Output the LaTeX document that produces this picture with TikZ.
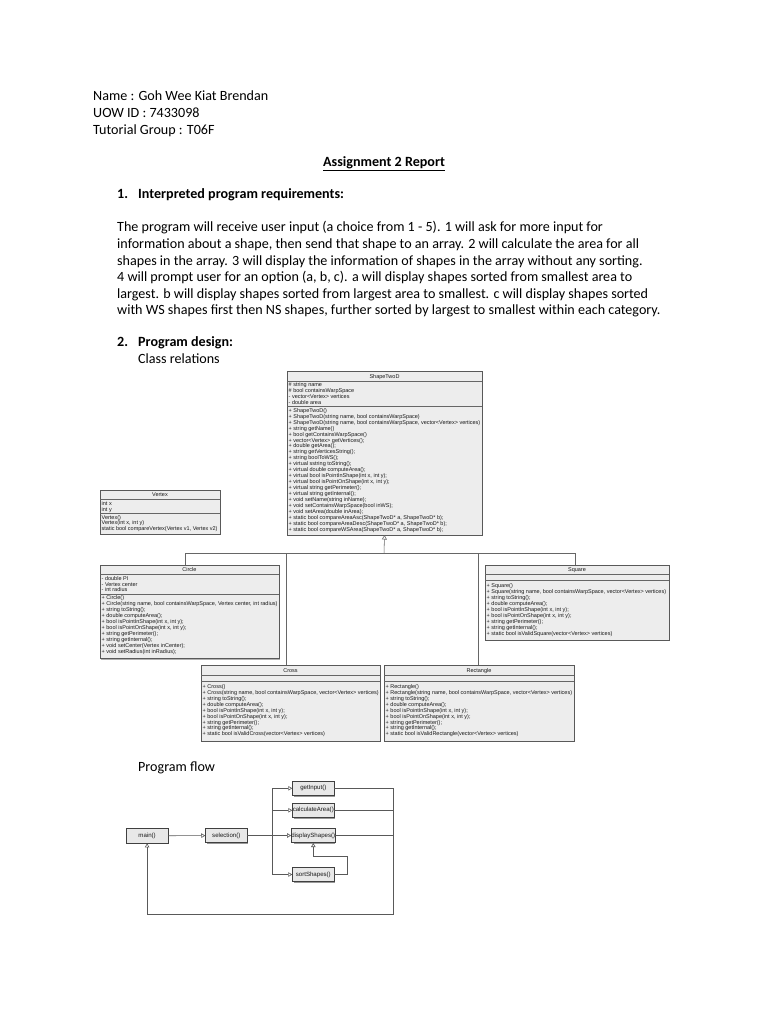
\documentclass[tikz,border=0pt]{standalone}
\usepackage{fontspec}
\setmainfont{Carlito}
\newfontfamily\umlfont{Liberation Sans}
\usetikzlibrary{arrows.meta,calc}
\newcommand\umlbox[5]{%
  \fill[umlshadow] ({#2+1.3},{#3+1.3}) rectangle ({#4+1.3},{#5+1.3});
  \node[classbox, minimum width={#4-#2}, minimum height={#5-#3}] (#1) at (#2,#3) {};
}
\newcommand\umllines[5]{%
  \foreach \umlt [count=\umli] in {#5} {%
    \node[uml] (#1\umli) at (#2,{#3+(\umli-1)*#4}) {\umlt};
  }%
}
\begin{document}
\begin{tikzpicture}[x=1pt,y=-1pt,
  body/.style={anchor=base west, inner sep=0pt, font=\fontsize{14.1}{16}\selectfont},
  bodyc/.style={anchor=base, inner sep=0pt, font=\fontsize{14.1}{16}\selectfont},
  uml/.style={anchor=base west, inner sep=0pt, text=black!90, font=\umlfont\fontsize{5.5}{6}\selectfont},
  umltitle/.style={anchor=base, inner sep=0pt, text=black!90, font=\umlfont\fontsize{5.5}{6}\selectfont},
  classbox/.style={draw=black!65, fill=black!7, line width=0.55pt, anchor=north west, inner sep=0pt, outer sep=0pt},
  umlshadow/.style={fill=black!30},
  sepline/.style={draw=black!60, line width=0.45pt},
  umlline/.style={draw=black!60, line width=0.55pt},
  inh/.style={umlline, -{Triangle[open,length=4.5pt,width=5pt]}},
  flow/.style={draw=black!75, fill=black!9, line width=0.6pt, minimum width=41.5pt, minimum height=14.5pt, inner sep=0pt, text=black!90, font=\umlfont\fontsize{6.1}{6.5}\selectfont},
  flowshadow/.style={fill=black!40},
  fline/.style={draw=black!65, line width=0.6pt},
  farrow/.style={fline, -{Triangle[open,length=4pt,width=4.5pt]}}
]
\useasboundingbox (0,0) rectangle (768,1024);
\fill[white] (0,0) rectangle (768,1024);

% ---------- header text ----------
\node[body] (name) at (93,100.3) {Name : Goh Wee Kiat Brendan};
\node[body] (uow) at (93,117.5) {UOW ID : 7433098};
\node[body] (tut) at (93,134.7) {Tutorial Group : T06F};
\node[bodyc] (title) at (384,166.3) {\underline{\textbf{Assignment 2 Report}}};
\node[body] (n1) at (117,198.3) {\textbf{1.}};
\node[body] (s1) at (138,198.3) {\textbf{Interpreted program requirements:}};
\node[body] (p1) at (117,232) {The program will receive user input (a choice from 1 - 5). 1 will ask for more input for};
\node[body] (p2) at (117,248.5) {information about a shape, then send that shape to an array. 2 will calculate the area for all};
\node[body] (p3) at (117,265) {shapes in the array. 3 will display the information of shapes in the array without any sorting.};
\node[body] (p4) at (117,281.5) {4 will prompt user for an option (a, b, c). a will display shapes sorted from smallest area to};
\node[body] (p5) at (117,298) {largest. b will display shapes sorted from largest area to smallest. c will display shapes sorted};
\node[body] (p6) at (117,314.5) {with WS shapes first then NS shapes, further sorted by largest to smallest within each category.};
\node[body] (n2) at (117,346.8) {\textbf{2.}};
\node[body] (s2) at (138,346.8) {\textbf{Program design:}};
\node[body] (cr) at (138,363) {Class relations};
\node[body] (pf) at (138,771.3) {Program flow};

% ---------- class diagram ----------
% ShapeTwoD
\umlbox{s2d}{287}{371}{482}{535}
\node[umltitle] (s2dt) at (s2d.north |- 0,378) {ShapeTwoD};
\draw[sepline] (s2d.west |- 0,381) -- (s2d.east |- 0,381);
\umllines{s2da}{288.5}{386.8}{5.9}{{\# string name},{\# bool  containsWarpSpace},{- vector<Vertex> vertices},{- double area}}
\draw[sepline] (s2d.west |- 0,406.5) -- (s2d.east |- 0,406.5);
\umllines{s2dm}{288.5}{412.4}{5.93}{{+ ShapeTwoD()},{+ ShapeTwoD(string name, bool containsWarpSpace)},{+ ShapeTwoD(string name, bool containsWarpSpace, vector<Vertex> vertices)},{+ string getName()},{+ bool getContainsWarpSpace()},{+ vector<Vertex> getVertices();},{+ double getArea();},{+ string getVerticesString();},{+ string boolToWS();},{+ virtual sstring toString();},{+ virtual double computeArea();},{+ virtual bool isPointInShape(int x, int y);},{+ virtual bool isPointOnShape(int x, int y);},{+ virtual string getPerimeter();},{+ virtual string getInternal();},{+ void setName(string inName);},{+ void setContainsWarpSpace(bool inWS);},{+ void setArea(double inArea);},{+ static bool compareAreaAsc(ShapeTwoD* a, ShapeTwoD* b);},{+ static bool compareAreaDesc(ShapeTwoD* a, ShapeTwoD* b);},{+ static bool compareWSArea(ShapeTwoD* a, ShapeTwoD* b);}}

% Vertex
\umlbox{vtx}{100}{490.5}{220}{534}
\node[umltitle] (vtxt) at (vtx.north |- 0,496.8) {Vertex};
\draw[sepline] (vtx.west |- 0,498.8) -- (vtx.east |- 0,498.8);
\umllines{vtxa}{101.5}{505.3}{5.7}{{int x},{int y}}
\draw[sepline] (vtx.west |- 0,513) -- (vtx.east |- 0,513);
\umllines{vtxm}{101.5}{519.1}{5.7}{{Vertex()},{Vertex(int x, int y)},{static bool compareVertex(Vertex v1, Vertex v2)}}

% Circle
\umlbox{cir}{100}{565.2}{279}{658.6}
\node[umltitle] (cirt) at (cir.north |- 0,571.8) {Circle};
\draw[sepline] (cir.west |- 0,574.5) -- (cir.east |- 0,574.5);
\umllines{cira}{101.5}{580.3}{5.8}{{- double PI},{- Vertex center},{- int radius}}
\draw[sepline] (cir.west |- 0,594) -- (cir.east |- 0,594);
\umllines{cirm}{101.5}{599.8}{5.93}{{+ Circle()},{+ Circle(string name, bool containsWarpSpace, Vertex center, int radius)},{+ string toString();},{+ double computeArea();},{+ bool isPointInShape(int x, int y);},{+ bool isPointOnShape(int x, int y);},{+ string getPerimeter();},{+ string getInternal();},{+ void setCenter(Vertex inCenter);},{+ void setRadius(int inRadius);}}

% Square
\umlbox{sqr}{485}{565.2}{669}{640}
\node[umltitle] (sqrt) at (sqr.north |- 0,571.8) {Square};
\draw[sepline] (sqr.west |- 0,574.5) -- (sqr.east |- 0,574.5);
\draw[sepline] (sqr.west |- 0,580.5) -- (sqr.east |- 0,580.5);
\umllines{sqrm}{486.5}{587.4}{5.95}{{+ Square()},{+ Square(string name, bool containsWarpSpace, vector<Vertex> vertices)},{+ string toString();},{+ double computeArea();},{+ bool isPointInShape(int x, int y);},{+ bool isPointOnShape(int x, int y);},{+ string getPerimeter();},{+ string getInternal();},{+ static bool isValidSquare(vector<Vertex> vertices)}}

% Cross
\umlbox{crs}{201}{665.4}{380}{741}
\node[umltitle] (crst) at (crs.north |- 0,672.3) {Cross};
\draw[sepline] (crs.west |- 0,675) -- (crs.east |- 0,675);
\draw[sepline] (crs.west |- 0,681) -- (crs.east |- 0,681);
\umllines{crsm}{202.5}{688.3}{5.95}{{+ Cross()},{+ Cross(string name, bool containsWarpSpace, vector<Vertex> vertices)},{+ string toString();},{+ double computeArea();},{+ bool isPointInShape(int x, int y);},{+ bool isPointOnShape(int x, int y);},{+ string getPerimeter();},{+ string getInternal();},{+ static bool isValidCross(vector<Vertex> vertices)}}

% Rectangle
\umlbox{rct}{384}{665.4}{574}{741}
\node[umltitle] (rctt) at (rct.north |- 0,672.3) {Rectangle};
\draw[sepline] (rct.west |- 0,675) -- (rct.east |- 0,675);
\draw[sepline] (rct.west |- 0,681) -- (rct.east |- 0,681);
\umllines{rctm}{385.5}{688.3}{5.95}{{+ Rectangle()},{+ Rectangle(string name, bool containsWarpSpace, vector<Vertex> vertices)},{+ string toString();},{+ double computeArea();},{+ bool isPointInShape(int x, int y);},{+ bool isPointOnShape(int x, int y);},{+ string getPerimeter();},{+ string getInternal();},{+ static bool isValidRectangle(vector<Vertex> vertices)}}

% inheritance connectors
\coordinate (bus) at (384,553.7);
\coordinate (dcir) at ($(cir.north)+(-4,0)$);
\coordinate (dcrs) at ($(crs.north)+(-4,0)$);
\coordinate (drct) at ($(rct.north)+(-1,0)$);
\coordinate (dsqr) at ($(sqr.north)+(-2,0)$);
\draw[umlline] (dcir) |- (bus) -| (dsqr);
\draw[umlline] (dcrs) -- (dcrs |- bus);
\draw[umlline] (drct) -- (drct |- bus);
\draw[inh] (bus) -- (s2d.south);

% ---------- program flow ----------
\foreach \fx/\fy in {147.1/835.8, 226.3/835.5, 313.3/788.3, 313.3/810.3, 313.3/835.5, 313.3/874.5}
  \fill[flowshadow] ({\fx-20.75+1},{\fy-7.25+1}) rectangle ({\fx+20.75+1},{\fy+7.25+1});
\node[flow] (main) at (147.1,835.8) {main()};
\node[flow] (sel) at (226.3,835.5) {selection()};
\node[flow] (gin) at (313.3,788.3) {getInput()};
\node[flow] (calc) at (313.3,810.3) {calculateArea()};
\node[flow] (disp) at (313.3,835.5) {displayShapes()};
\node[flow] (sort) at (313.3,874.5) {sortShapes()};

\coordinate (busx) at (272.7,835.5);
\coordinate (retx) at (393.3,914);
\coordinate (loop) at (347.3,856);

\draw[farrow] (main) -- (sel);
\draw[farrow] (sel.east) -- (disp.west);
\draw[fline] (busx |- gin.west) -- (busx |- sort.west);
\draw[farrow] (busx |- gin.west) -- (gin.west);
\draw[farrow] (busx |- calc.west) -- (calc.west);
\draw[farrow] (busx |- sort.west) -- (sort.west);
\draw[farrow] (gin.east) -| (retx) -| (main.south);
\draw[fline] (calc.east) -- (calc.east -| retx);
\draw[fline] (disp.east) -- (disp.east -| retx);
\draw[farrow] (sort.east) -| (loop) -| (disp.south);
\end{tikzpicture}
\end{document}
